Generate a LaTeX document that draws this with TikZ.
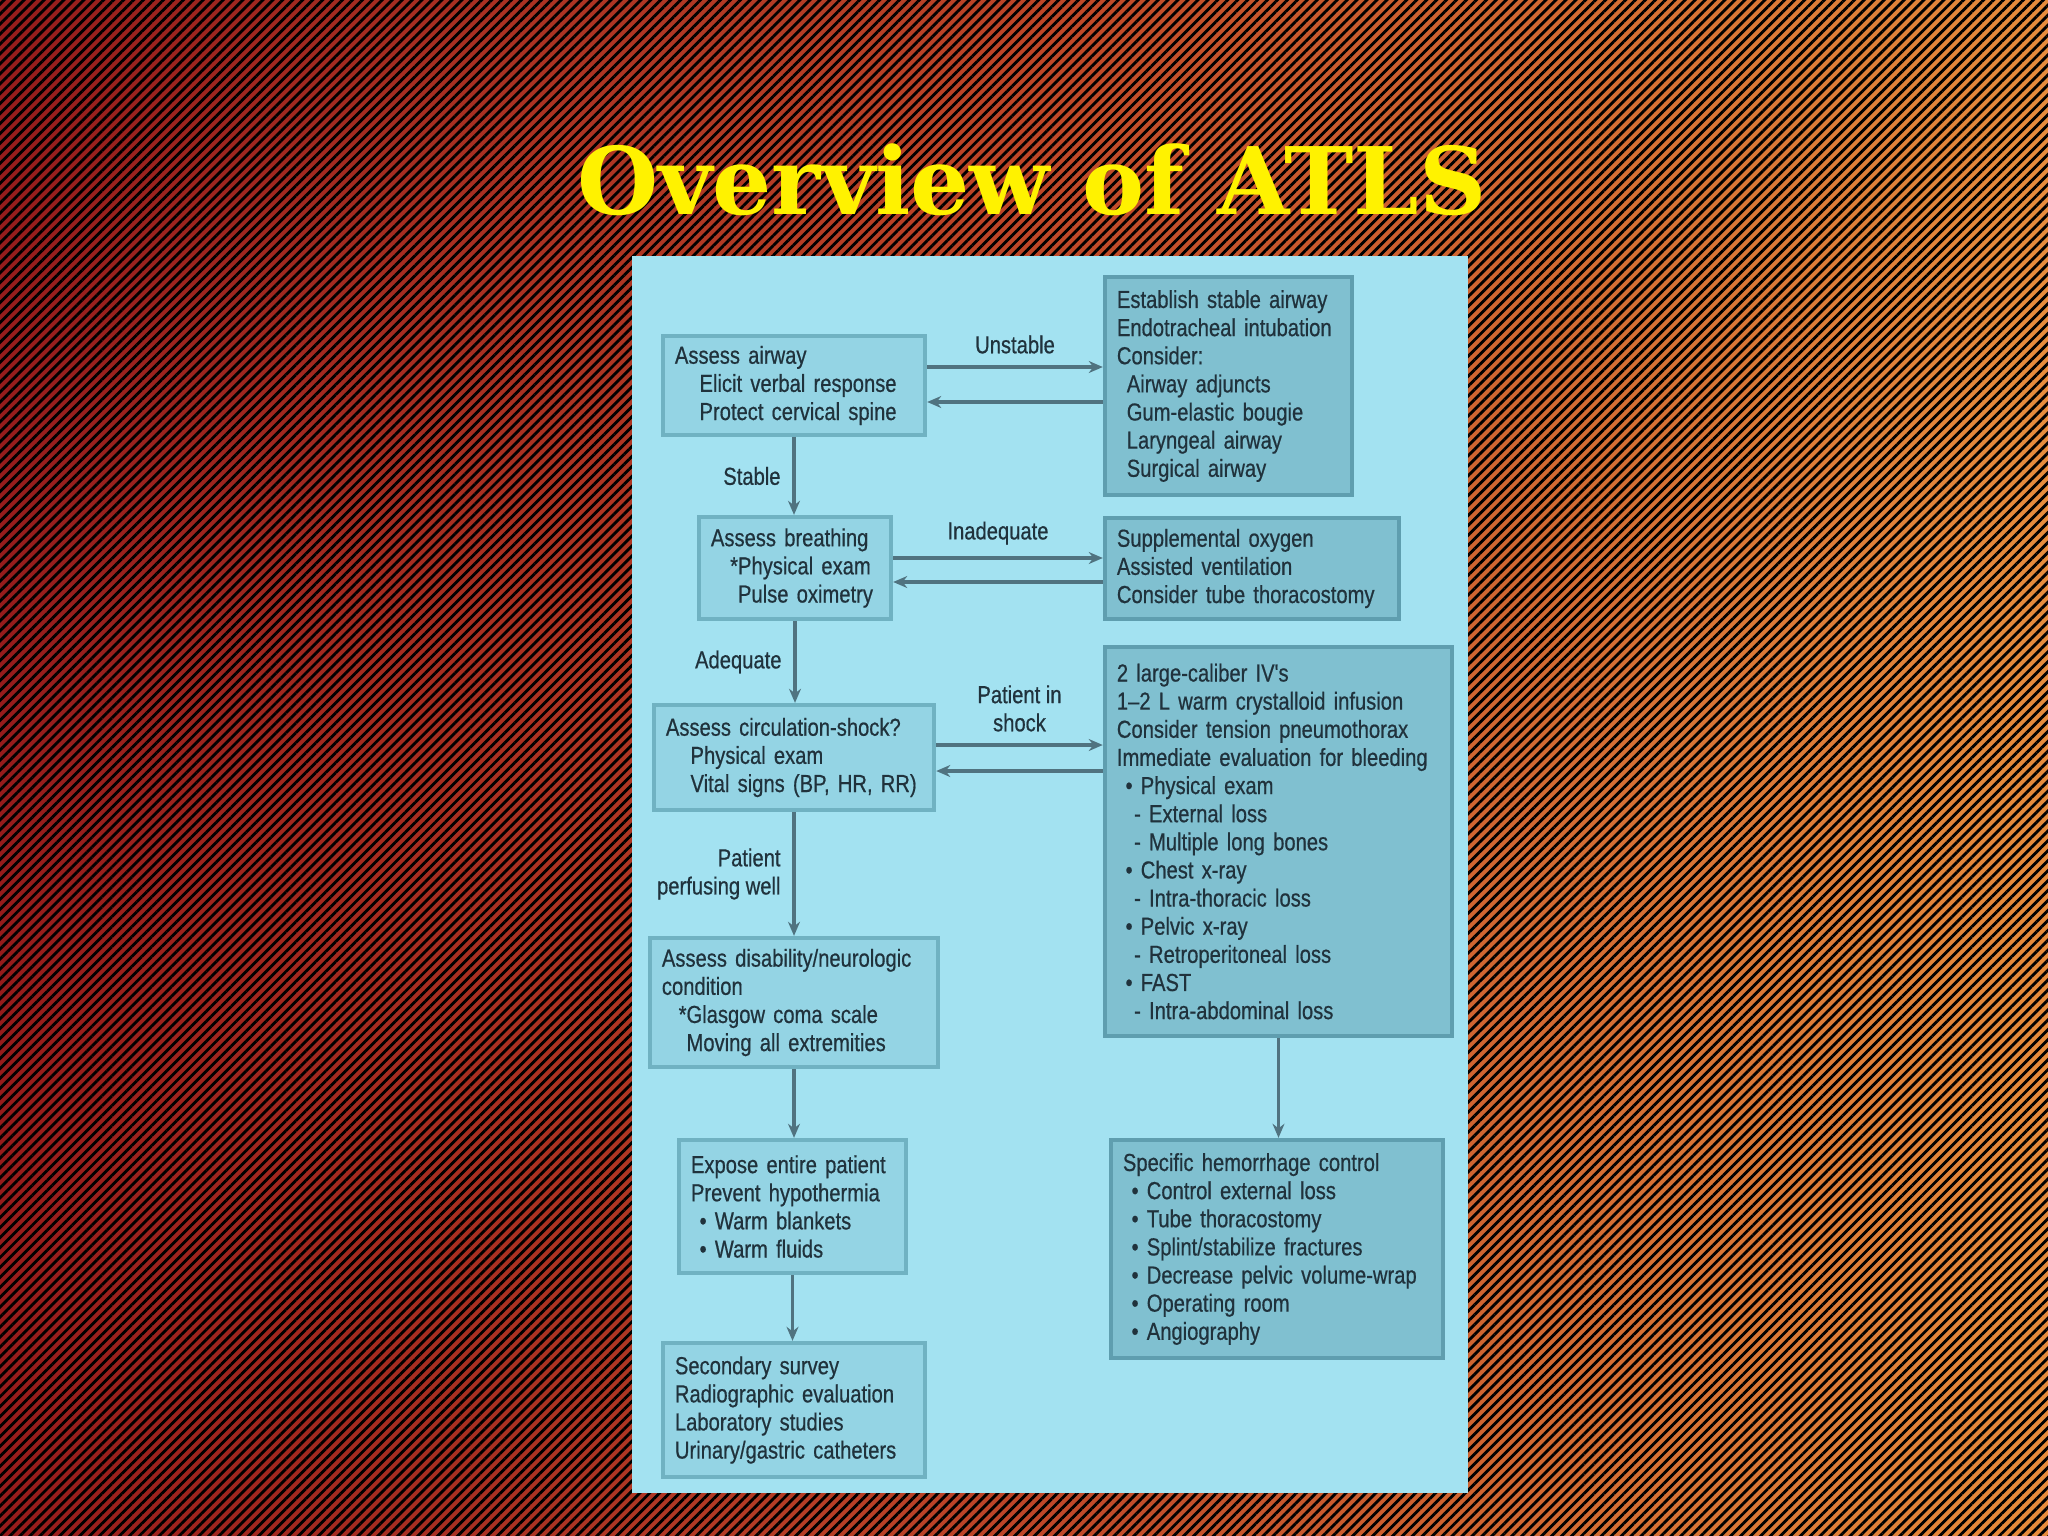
\documentclass[tikz,border=0pt]{standalone}
\usepackage{fontspec}
\setmainfont{Liberation Sans}
\newfontfamily\boxfont[FakeStretch=0.82,FakeBold=0.6]{Liberation Sans}
\newfontfamily\titlefont{DejaVu Serif}
\usetikzlibrary{arrows.meta,patterns.meta}

\definecolor{bgdark}{RGB}{150,28,28}
\definecolor{bgmid}{RGB}{190,70,40}
\definecolor{bgorange}{RGB}{230,140,60}
\definecolor{panelblue}{RGB}{163,226,241}
\definecolor{lfill}{RGB}{148,212,228}
\definecolor{ledge}{RGB}{112,178,194}
\definecolor{rfill}{RGB}{128,192,208}
\definecolor{redge}{RGB}{95,158,175}
\definecolor{inkgray}{RGB}{32,50,60}
\definecolor{arrgray}{RGB}{80,115,128}

\begin{document}
\begin{tikzpicture}[x=0.01cm,y=-0.01cm,
    box/.style={draw, line width=1.2pt, align=left, inner xsep=0.12cm, inner ysep=0pt,
      text=inkgray, font=\boxfont\fontsize{7}{8}\selectfont},
    lbox/.style={box, fill=lfill, draw=ledge},
    rbox/.style={box, fill=rfill, draw=redge},
    arr/.style={-{Stealth[length=4pt,width=3.4pt]}, line width=1pt, draw=arrgray},
    lab/.style={text=inkgray, font=\boxfont\fontsize{7}{8}\selectfont}]
  % background and panel
  \fill[left color=bgdark, right color=bgorange, middle color=bgmid] (0,0) rectangle (2048,1536);
  \fill[pattern={Lines[angle=45,distance=2pt,line width=0.8pt]}, pattern color=black] (0,0) rectangle (2048,1536);
  \fill[panelblue] (632,256) rectangle (1468,1493);
  \node[text=yellow, font=\titlefont\bfseries\fontsize{26.5}{30}\selectfont] (title) at (1032,180) {Overview of ATLS};

  % left column
  \node[lbox, text width=2.38cm, minimum height=0.99cm] (airway) at (794,385.5)
    {Assess airway\\\hspace*{1em}Elicit verbal response\\\hspace*{1em}Protect cervical spine};
  \node[lbox, text width=1.68cm, minimum height=1.02cm] (breath) at (795,568)
    {Assess breathing\\\hspace*{1.1em}\llap{*}Physical exam\\\hspace*{1.1em}Pulse oximetry};
  \node[lbox, text width=2.56cm, minimum height=1.05cm] (circ) at (794,757.5)
    {Assess circulation-shock?\\\hspace*{1em}Physical exam\\\hspace*{1em}Vital signs (BP, HR, RR)};
  \node[lbox, text width=2.64cm, minimum height=1.29cm] (disab) at (794,1002.5)
    {Assess disability/neurologic\\condition\\\hspace*{1em}\llap{*}Glasgow coma scale\\\hspace*{1em}Moving all extremities};
  \node[lbox, text width=2.03cm, minimum height=1.33cm] (expose) at (792.5,1206.5)
    {Expose entire patient\\Prevent hypothermia\\\hspace*{.35em}\textbullet\ Warm blankets\\\hspace*{.35em}\textbullet\ Warm fluids};
  \node[lbox, text width=2.38cm, minimum height=1.34cm] (second) at (794,1410)
    {Secondary survey\\Radiographic evaluation\\Laboratory studies\\Urinary/gastric catheters};

  % right column
  \node[rbox, text width=2.23cm, minimum height=2.18cm] (estab) at (1228.5,386)
    {Establish stable airway\\Endotracheal intubation\\Consider:\\\hspace*{.4em}Airway adjuncts\\\hspace*{.4em}Gum-elastic bougie\\\hspace*{.4em}Laryngeal airway\\\hspace*{.4em}Surgical airway};
  \node[rbox, text width=2.70cm, minimum height=1.01cm] (suppl) at (1252,568.5)
    {Supplemental oxygen\\Assisted ventilation\\Consider tube thoracostomy};
  \node[rbox, text width=3.23cm, minimum height=3.89cm] (ivs) at (1278.5,841.5)
    {2 large-caliber IV's\\1–2 L warm crystalloid infusion\\Consider tension pneumothorax\\Immediate evaluation for bleeding\\
     \hspace*{.35em}\textbullet\ Physical exam\\\hspace*{.7em}- External loss\\\hspace*{.7em}- Multiple long bones\\
     \hspace*{.35em}\textbullet\ Chest x-ray\\\hspace*{.7em}- Intra-thoracic loss\\
     \hspace*{.35em}\textbullet\ Pelvic x-ray\\\hspace*{.7em}- Retroperitoneal loss\\
     \hspace*{.35em}\textbullet\ FAST\\\hspace*{.7em}- Intra-abdominal loss};
  \node[rbox, text width=3.08cm, minimum height=2.18cm] (hemo) at (1277,1249)
    {Specific hemorrhage control\\\hspace*{.35em}\textbullet\ Control external loss\\\hspace*{.35em}\textbullet\ Tube thoracostomy\\
     \hspace*{.35em}\textbullet\ Splint/stabilize fractures\\\hspace*{.35em}\textbullet\ Decrease pelvic volume-wrap\\
     \hspace*{.35em}\textbullet\ Operating room\\\hspace*{.35em}\textbullet\ Angiography};

  % connectors
  \draw[arr] (airway.south) -- node[left, lab] {Stable} (airway.south |- breath.north);
  \draw[arr] (breath.south) -- node[left, lab] {Adequate} (breath.south |- circ.north);
  \draw[arr] (circ.south) -- node[left, lab, align=right] {Patient\\perfusing well} (circ.south |- disab.north);
  \foreach \a/\b in {disab/expose, expose/second, ivs/hemo} {
    \draw[arr] (\a.south) -- (\a.south |- \b.north);
  }
  \foreach \a/\b/\yr/\yl/\lab in {airway/estab/367/402/Unstable, breath/suppl/558/582/Inadequate, circ/ivs/745/771/{Patient in\\shock}} {
    \draw[arr] (\a.east |- 0,\yr) -- node[above, lab, align=center] {\lab} (\b.west |- 0,\yr);
    \draw[arr] (\b.west |- 0,\yl) -- (\a.east |- 0,\yl);
  }
\end{tikzpicture}
\end{document}
